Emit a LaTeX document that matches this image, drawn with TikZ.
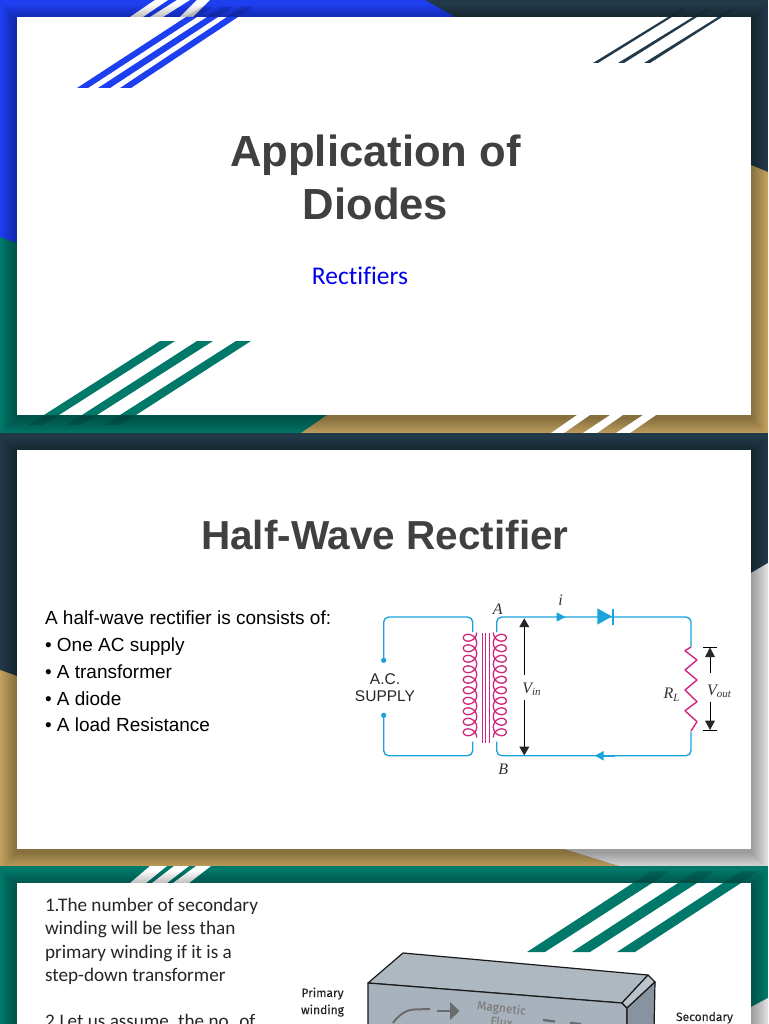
\documentclass[tikz,border=0pt]{standalone}
\usepackage{fontspec}
\setmainfont{Liberation Sans}
\newfontfamily\calib[Ligatures=NoCommon]{Carlito}
\newfontfamily\serifi{Liberation Serif}
\newfontfamily\firaf[FakeBold=0.35]{Fira Sans}
\definecolor{navy}{HTML}{22394A}
\definecolor{bluef}{HTML}{1E3FF0}
\definecolor{tealf}{HTML}{00786A}
\definecolor{tanf}{HTML}{BF9F5C}
\definecolor{greyf}{HTML}{DCDCDC}
\definecolor{wirec}{HTML}{1BA3DC}
\definecolor{coilc}{HTML}{D0267F}
\definecolor{titlec}{HTML}{404040}
\newcommand{\fsz}[1]{\fontsize{#1}{#1}\selectfont}
\newcommand{\cardshadow}[4]{%
  \foreach \i in {15,14,...,1}{\fill[black,opacity=0.02] (#1-\i,#2-\i+3) rectangle (#3+\i,#4+\i+3);}}
\tikzset{
  txt/.style={inner sep=0pt,outer sep=0pt,anchor=base west},
  ctr/.style={inner sep=0pt,outer sep=0pt,anchor=base},
  titlet/.style={ctr,text=titlec,font=\bfseries},
  wire/.style={draw=wirec,line width=1.35pt,rounded corners=5pt},
  coil/.style={draw=coilc,line width=1.3pt},
  corel/.style={draw=coilc,line width=1pt},
  volt/.style={draw=black,line width=0.9pt},
  headk/.style={fill=black!85},
  lab/.style={ctr,text=black!80,font=\serifi\itshape\fsz{16}},
  trlab/.style={ctr,text=black!85,font=\firaf\fsz{12}},
  edgeb/.style={draw=black!90,line width=1.2pt,line join=round},
  flux/.style={draw=black!58,line width=2pt},
  trail/.style={fill=black,opacity=0.14}
}
\begin{document}
\begin{tikzpicture}[x=1pt,y=-1pt]
\useasboundingbox (0,0) rectangle (768,1024);
\clip (0,0) rectangle (768,1024);
% ---- slide 1 background
\fill[navy] (0,0) rectangle (768,433);
\fill[bluef] (0,0) -- (425,0) -- (455,17) -- (455,300) -- (17,243) -- (0,237) -- cycle;
\fill[tealf] (0,237) -- (17,243) -- (400,300) -- (327,415) -- (301,433) -- (0,433) -- cycle;
\fill[tanf] (301,433) -- (327,415) -- (751,165) -- (768,172) -- (768,433) -- cycle;
\fill[white] (130,17) -- (155,0) -- (168,0) -- (143,17) -- cycle;
\fill[white] (150,17) -- (177,0) -- (190,0) -- (163,17) -- cycle;
\fill[white] (180,17) -- (197,0) -- (210,0) -- (193,17) -- cycle;
\begin{scope}
\clip (0,0) rectangle (768,433);
\cardshadow{17}{17}{751}{415}
\end{scope}
% stripe trails in the frame, slide 1
\fill[trail] (186,17) -- (197,17) -- (212,7) -- (201,7) -- cycle;
\fill[trail] (207,17) -- (218,17) -- (233,7) -- (222,7) -- cycle;
\fill[trail] (227,17) -- (238,17) -- (253,7) -- (242,7) -- cycle;
\fill[trail] (668,17) -- (672,17) -- (685,9) -- (681,9) -- cycle;
\fill[trail] (693,17) -- (697,17) -- (710,9) -- (706,9) -- cycle;
\fill[trail] (718,17) -- (722,17) -- (735,9) -- (731,9) -- cycle;
\fill[trail] (44,415) -- (59,415) -- (43,425) -- (28,425) -- cycle;
\fill[trail] (82,415) -- (97,415) -- (81,425) -- (66,425) -- cycle;
\fill[trail] (120,415) -- (136,415) -- (120,425) -- (104,425) -- cycle;
\fill[white] (17,17) rectangle (751,415);
\fill[white] (551,433) -- (577,415) -- (590,415) -- (564,433) -- cycle;
\fill[white] (583,433) -- (610,415) -- (623,415) -- (597,433) -- cycle;
\fill[white] (616,433) -- (643,415) -- (656,415) -- (630,433) -- cycle;
% stripes slide 1
\fill[bluef] (77,88) -- (88,88) -- (197,17) -- (186,17) -- cycle;
\fill[bluef] (98,88) -- (110,88) -- (218,17) -- (207,17) -- cycle;
\fill[bluef] (120,88) -- (131,88) -- (238,17) -- (227,17) -- cycle;
\fill[navy] (593,63) -- (598,63) -- (672,17) -- (668,17) -- cycle;
\fill[navy] (618,63) -- (624,63) -- (697,17) -- (693,17) -- cycle;
\fill[navy] (644,63) -- (650,63) -- (722,17) -- (718,17) -- cycle;
\fill[tealf] (160,341) -- (175,341) -- (59,415) -- (44,415) -- cycle;
\fill[tealf] (197,341) -- (213,341) -- (97,415) -- (82,415) -- cycle;
\fill[tealf] (236,341) -- (251,341) -- (136,415) -- (120,415) -- cycle;
\node[titlet,font=\bfseries\fsz{43.6}] (t1a) at (375.5,167) {Application of};
\node[titlet,font=\bfseries\fsz{43.6}] (t1b) at (375.5,219) {Diodes};
\node[ctr,text=blue!92!black,font=\calib\fsz{25.5}] (t1c) at (360,284) {Rectifiers};
% ---- slide 2 background
\fill[navy] (0,433) rectangle (768,866);
\fill[tanf] (0,670) -- (17,676) -- (400,800) -- (564,849) -- (619,866) -- (0,866) -- cycle;
\fill[greyf] (619,866) -- (564,849) -- (600,700) -- (751,573) -- (768,563) -- (768,866) -- cycle;
\begin{scope}
\clip (0,433) rectangle (768,866);
\cardshadow{17}{450}{751}{849}
\end{scope}
\fill[white] (17,450) rectangle (751,849);
\node[titlet,font=\bfseries\fsz{40.5}] (t2) at (385,549) {Half-Wave Rectifier};
\node[txt,font=\fsz{19}] (b1) at (45,624) {A half-wave rectifier is consists of:};
\node[txt,font=\fsz{19}] (b2) at (45,651) {• One AC supply};
\node[txt,font=\fsz{19}] (b3) at (45,678) {• A transformer};
\node[txt,font=\fsz{19}] (b4) at (45,705) {• A diode};
\node[txt,font=\fsz{19}] (b5) at (45,731) {• A load Resistance};
% circuit
\coordinate (dotT) at (383.7,660.3);
\coordinate (dotB) at (383.7,715.3);
\coordinate (pT) at (472.7,632);
\coordinate (pB) at (472.7,741.7);
\coordinate (sT) at (496.7,632);
\coordinate (sB) at (496.7,741.7);
\coordinate (rT) at (691,647);
\coordinate (rB) at (691,731.7);
\draw[wire] (dotT) -- (dotT |- 0,617) -- (pT |- 0,617) -- (pT);
\draw[wire] (pB) -- (pB |- 0,755.7) -- (dotB |- 0,755.7) -- (dotB);
\draw[wire] (sT) -- (sT |- 0,617) -- (rT |- 0,617) -- (rT);
\draw[wire] (rB) -- (rB |- 0,755.7) -- (sB |- 0,755.7) -- (sB);
\fill[wirec] (dotT) circle (2.6);
\fill[wirec] (dotB) circle (2.6);
\fill[wirec] (597.3,608.3) -- (612,616.5) -- (597.3,624.6) -- cycle;
\draw[wirec,line width=1.8pt] (612.8,608.8) -- (612.8,624.6);
\fill[wirec] (556.5,612.3) -- (565.5,617) -- (556.5,621.7) -- cycle;
\fill[wirec] (595,755.7) -- (603.5,751) -- (603.5,760.5) -- cycle;
\draw[wirec,line width=2pt] (603,755.7) -- (615,755.7);
% coils
\draw[coil,smooth] plot[domain=0:3600,samples=240,variable=\t] ({470+6.7*cos(\t)},{632.5+\t/360*10.5+5.8*sin(\t)});
\draw[coil,smooth] plot[domain=0:3600,samples=240,variable=\t] ({499.8-6.5*cos(\t)},{632.5+\t/360*10.5+5.8*sin(\t)});
\draw[corel] (482.3,633.3) -- (482.3,742.7);
\draw[corel] (485.7,633.3) -- (485.7,742.7);
\draw[corel] (489,633.3) -- (489,742.7);
% resistor
\draw[coil,line join=round,line width=1.4pt] (691,647) -- (685,650.7) -- (697,660) -- (685,670) -- (697,680) -- (685,690) -- (697,701.7) -- (685,710.7) -- (697,721.7) -- (691,731);
% Vin
\draw[volt] (524.3,626) -- (524.3,675);
\draw[volt] (524.3,700) -- (524.3,747);
\fill[headk] (524.3,618.3) -- (529.3,627) -- (519.3,627) -- cycle;
\fill[headk] (524.3,755.5) -- (529.3,746.7) -- (519.3,746.7) -- cycle;
% Vout
\draw[volt] (703.3,647.3) -- (716.7,647.3);
\draw[volt] (703.3,730.3) -- (716.7,730.3);
\draw[volt] (710,656) -- (710,672.7);
\draw[volt] (710,701.7) -- (710,721);
\fill[headk] (710,647.5) -- (715,657) -- (705,657) -- cycle;
\fill[headk] (710,730) -- (715,720.7) -- (705,720.7) -- cycle;
% circuit labels
\node[ctr,text=black!85,font=\fsz{15.5}] (ac1) at (385,684) {A.C.};
\node[ctr,text=black!85,font=\fsz{15.5}] (ac2) at (385,701.5) {SUPPLY};
\node[lab] (la) at (497.7,614) {\textit{A}};
\node[lab] (lb) at (503.3,774) {\textit{B}};
\node[lab] (li) at (560.7,605) {\textit{i}};
\node[lab] (lvin) at (531.5,693) {\textit{V\raisebox{-2.5pt}{\fsz{11}in}}};
\node[lab] (lrl) at (671.5,698) {\textit{R\raisebox{-3pt}{\fsz{11}L}}};
\node[lab] (lvo) at (719,695) {\textit{V\raisebox{-2.5pt}{\fsz{11}out}}};
% ---- slide 3 background
\fill[tealf] (0,866) rectangle (768,1024);
\fill[greyf] (751,1007) -- (768,998) -- (768,1024) -- (751,1024) -- cycle;
\fill[white] (130,883) -- (150,866) -- (167,866) -- (146,883) -- cycle;
\fill[white] (152,883) -- (174,866) -- (189,866) -- (167,883) -- cycle;
\fill[white] (173,883) -- (196,866) -- (211,866) -- (189,883) -- cycle;
\begin{scope}
\clip (0,866) rectangle (768,1024);
\cardshadow{17}{883}{751}{1060}
\end{scope}
\fill[trail] (633,883) -- (652,883) -- (670,871) -- (651,871) -- cycle;
\fill[trail] (678,883) -- (697,883) -- (715,871) -- (696,871) -- cycle;
\fill[trail] (723,883) -- (741,883) -- (759,871) -- (741,871) -- cycle;
\fill[white] (17,883) rectangle (751,1030);
\fill[tealf] (527,952) -- (545,952) -- (652,883) -- (633,883) -- cycle;
\fill[tealf] (572,952) -- (590,952) -- (697,883) -- (678,883) -- cycle;
\fill[tealf] (617,952) -- (635,952) -- (741,883) -- (723,883) -- cycle;
\foreach \nm/\yy/\tx in {c1/911/{1.The number of secondary},c2/934/{winding will be less than},c3/958/{primary winding if it is a},c4/981/{step-down transformer},c5/1027/{2.Let us assume, the no. of}}{
  \node[txt,text=black!85,font=\calib\fsz{19.2}] (\nm) at (45,\yy) {\tx};
}
% transformer box
\path[fill={rgb,255:red,174;green,184;blue,193},edgeb] (368,983) -- (403,953) -- (648,975) -- (622,1003) -- cycle;
\path[fill={rgb,255:red,167;green,178;blue,188},edgeb] (368,983) -- (622,1003) -- (627,1008) -- (627,1030) -- (368,1030) -- cycle;
\path[fill={rgb,255:red,188;green,196;blue,203},edgeb] (622,1003) -- (648,975) -- (655,982) -- (627,1008) -- cycle;
\path[fill={rgb,255:red,135;green,148;blue,159},edgeb] (627,1008) -- (655,982) -- (654,1030) -- (627,1030) -- cycle;
\draw[flux] (393,1023) .. controls (398,1016) and (405,1010) .. (414,1009.5) -- (430,1009);
\draw[flux] (437,1011) -- (450,1011);
\fill[black!58] (459.5,1011) -- (450,1002) -- (450,1020) -- cycle;
\draw[flux,line width=2.4pt] (543,1020) -- (555,1021.5);
\draw[flux,line width=2.4pt] (570,1023) -- (581,1024);
\node[ctr,text=black!50,font=\firaf\fsz{12},rotate=-7] (mf) at (501,1012) {Magnetic};
\node[ctr,text=black!50,font=\firaf\fsz{12},rotate=-7] (fl) at (501,1026) {Flux};
\node[trlab] (tp1) at (322.5,997) {Primary};
\node[trlab] (tp2) at (322.5,1014) {winding};
\node[trlab] (ts) at (704.5,1021) {Secondary};
\end{tikzpicture}
\end{document}
